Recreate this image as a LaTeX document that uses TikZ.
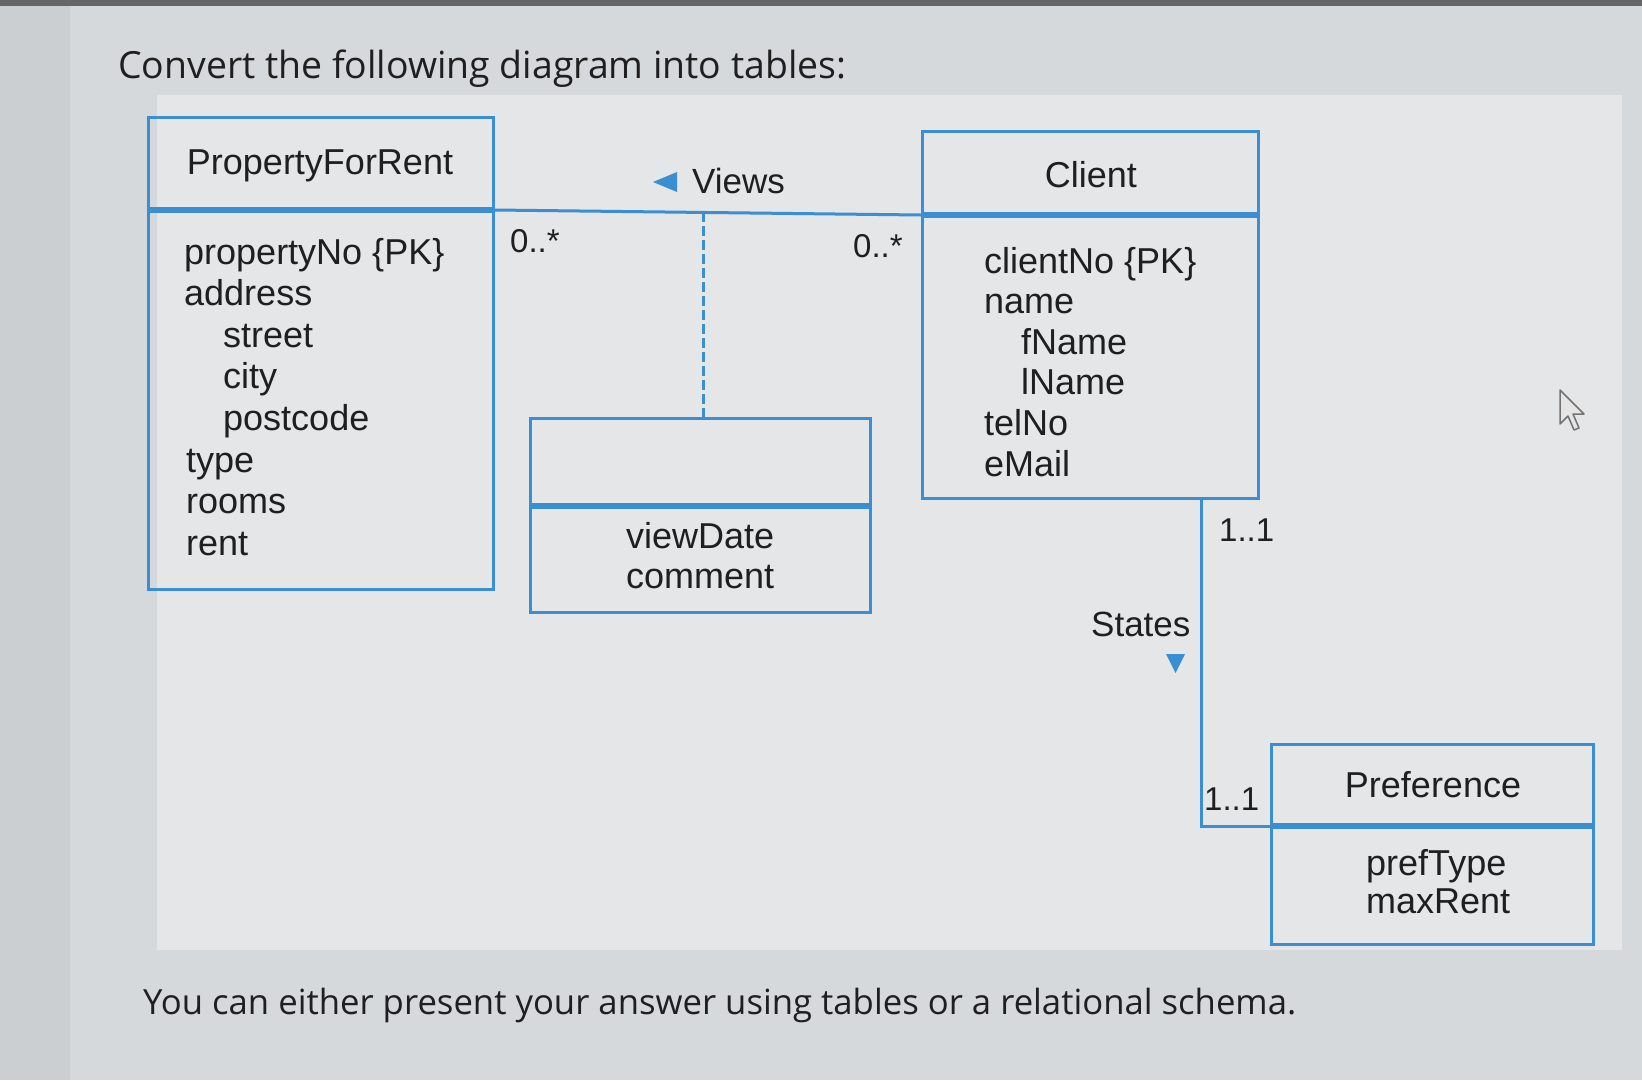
\documentclass[tikz,border=0pt]{standalone}
\usepackage{fontspec}
\setmainfont{Liberation Sans}
\newfontfamily\uifont{Open Sans}
\usepackage{tikz}
\usetikzlibrary{calc}
\usetikzlibrary{positioning}

\definecolor{umlblue}{HTML}{3A8FD4}
\definecolor{inktext}{HTML}{1F1F1F}
\definecolor{screenbg}{HTML}{D5D9DC}
\definecolor{edgebg}{HTML}{CBCFD2}
\definecolor{panelbg}{HTML}{E4E6E7}

\tikzset{
  entbox/.style={rectangle, draw=umlblue, line width=3pt, inner sep=0pt, anchor=north west},
  umlline/.style={draw=umlblue, line width=3pt},
  attr/.style={inner sep=0pt, anchor=base west, text=inktext, font=\fontsize{36}{40}\selectfont},
  entname/.style={inner sep=0pt, anchor=base, text=inktext, font=\fontsize{36}{40}\selectfont},
  mult/.style={inner sep=0pt, anchor=base west, text=inktext, font=\fontsize{33}{38}\selectfont},
  question/.style={inner sep=0pt, anchor=base west, text=inktext, font=\uifont\fontsize{37.4}{40}\selectfont},
}

\begin{document}
\begin{tikzpicture}[x=1pt, y=-1pt]

\useasboundingbox (0,0) rectangle (1642,1080);
\fill[screenbg] (0,0) rectangle (1642,1080);
\fill[edgebg] (0,0) rectangle (70,1080);
\fill[panelbg] (157,95) rectangle (1622,950);
\fill[black!60] (0,0) rectangle (1642,6);

\node at (118,78) [question] (ask) {Convert the following diagram into tables:};
\node at (143,1014) [question, font=\uifont\fontsize{34.7}{40}\selectfont] (hint) {You can either present your answer using tables or a relational schema.};

% PropertyForRent
\node at (147,116) [entbox, minimum width=345pt, minimum height=91pt] (pfrhead) {};
\node at (pfrhead.south west) [entbox, minimum width=345pt, minimum height=378pt] (pfrbody) {};
\node at (320,174) [entname] (pfrname) {PropertyForRent};
\foreach \dx/\txt [count=\i] in {0/propertyNo \{PK\}, 0/address, 39/street, 39/city, 39/postcode, 2/type, 2/rooms, 2/rent}
  \node at (184+\dx, 264+41.6*\i-41.6) [attr] (pfr\i) {\txt};

% Client
\node at (921,130) [entbox, minimum width=336pt, minimum height=82pt] (clienthead) {};
\node at (clienthead.south west) [entbox, minimum width=336pt, minimum height=282pt] (clientbody) {};
\node at (1091,187) [entname] (clientname) {Client};
\foreach \dx/\txt [count=\i] in {0/clientNo \{PK\}, 0/name, 37/fName, 37/lName, 0/telNo, 0/eMail}
  \node at (984+\dx, 273+40.6*\i-40.6) [attr] (client\i) {\txt};

% Views association class
\node at (529,417) [entbox, minimum width=340pt, minimum height=86pt] (viewshead) {};
\node at (viewshead.south west) [entbox, minimum width=340pt, minimum height=105pt] (viewsbody) {};
\node at (626,548) [attr] (viewdate) {viewDate};
\node at (626,588) [attr] (viewcomment) {comment};

% Preference
\node at (1270,743) [entbox, minimum width=322pt, minimum height=80pt] (prefhead) {};
\node at (prefhead.south west) [entbox, minimum width=322pt, minimum height=117pt] (prefbody) {};
\node at (1433,797) [entname] (prefname) {Preference};
\node at (1366,875) [attr] (preftype) {prefType};
\node at (1366,913) [attr] (maxrent) {maxRent};

% Views
\draw[umlline] (pfrbody.north east) -- (clientbody.north west) coordinate[pos=0.49] (viewsmid);
\draw[umlline, line width=2.5pt, dash pattern=on 10pt off 4pt] (viewsmid) -- (viewsmid |- viewshead.north);
\fill[umlblue] (653,182) -- (677,172) -- (677,192) -- cycle;
\node at (692,193) [mult, font=\fontsize{35}{38}\selectfont] (viewslabel) {Views};
\node at (510,252) [mult] (pfrmult) {0..*};
\node at (853,257) [mult] (clientmult) {0..*};

% States
\draw[umlline] ($(clientbody.south east)+(-59,0)$) |- (prefhead.south west);
\fill[umlblue] (1166,654) -- (1185,654) -- (1175.5,673) -- cycle;
\node at (1091,636) [mult, font=\fontsize{35}{38}\selectfont] (stateslabel) {States};
\node at (1219,541) [mult] (clientone) {1..1};
\node at (1204,810) [mult] (prefone) {1..1};

% mouse pointer
\draw[black!55, line width=1.5pt, fill=white!90!black, line join=round] (1560,390) -- (1560,424) -- (1568,416) -- (1574,430) -- (1579,428) -- (1573,414) -- (1584,414) -- cycle;

\end{tikzpicture}
\end{document}
